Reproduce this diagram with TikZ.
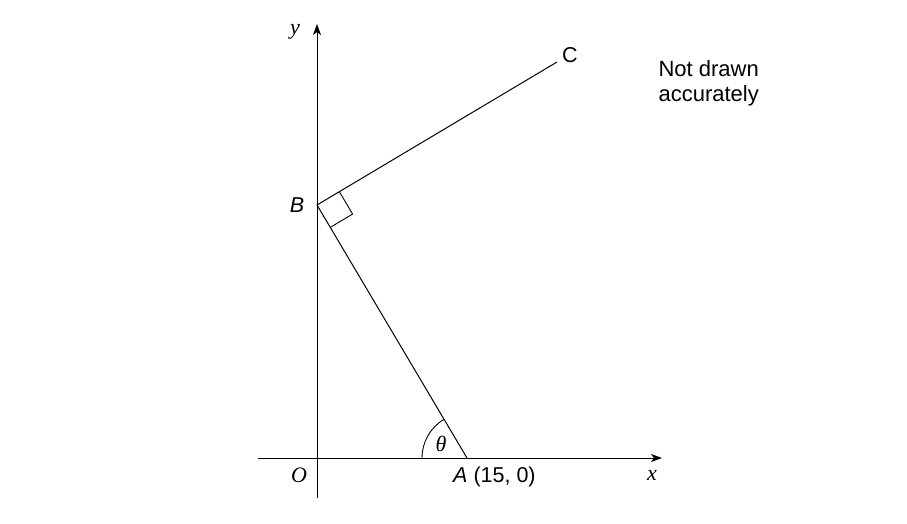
\documentclass[tikz,border=0pt]{standalone}
\usepackage{fontspec}
\setmainfont{Liberation Sans}
\newfontfamily\serifit[ItalicFont={Liberation Serif Italic}]{Liberation Serif}
\usetikzlibrary{arrows.meta, calc, angles}
\tikzset{
  axis/.style={line width=1pt, -{Stealth[length=11pt, width=8pt, inset=3pt]}},
  seg/.style={line width=1pt},
  sanslabel/.style={font=\fontsize{21.5}{25}\selectfont\itshape},
  seriflabel/.style={font=\fontsize{22}{25}\selectfont\serifit\itshape}
}

\begin{document}
\begin{tikzpicture}[x=1pt, y=1pt]
\useasboundingbox (0,0) rectangle (907,523);
% Points
    \coordinate (O) at (317,65);
    \coordinate (A) at (467,65);
    \coordinate (B) at (317,318);
    \coordinate (C) at (557,461);
% Axes
    \draw[axis] (258,65) -- (662,65);
    \draw[axis] (317,25) -- (317,499);
% Lines
    \draw[seg] (A) -- (B) -- (C);
% Right angle at B
    \coordinate (BC) at ($(B)!26pt!(C)$);
    \coordinate (BA) at ($(B)!26pt!(A)$);
    \draw[line width=0.9pt] (BC) -- ($(BC)+(BA)-(B)$) -- (BA);
% Angle at A
    \pic[draw, line width=0.9pt, angle radius=45] {angle = B--A--O};
% Labels
    \node[seriflabel] (labely) at (295,491) {y};
    \node[seriflabel] (labelx) at (652,48) {x};
    \node[seriflabel] (labelO) at (299,48) {O};
    \node[seriflabel] (labeltheta) at (441,79) {θ};
    \node[sanslabel] (labelB) at (297,318) {B};
    \node[font=\fontsize{21.5}{25}\selectfont] (labelC) at (570,468) {C};
    \node[sanslabel, anchor=base west, inner sep=0pt] (labelA) at (453,41) {A \upshape(15, 0)};
    \node[font=\fontsize{22}{25}\selectfont, align=left, anchor=north west] (note) at (655,466) {Not drawn\\accurately};
\end{tikzpicture}
\end{document}
